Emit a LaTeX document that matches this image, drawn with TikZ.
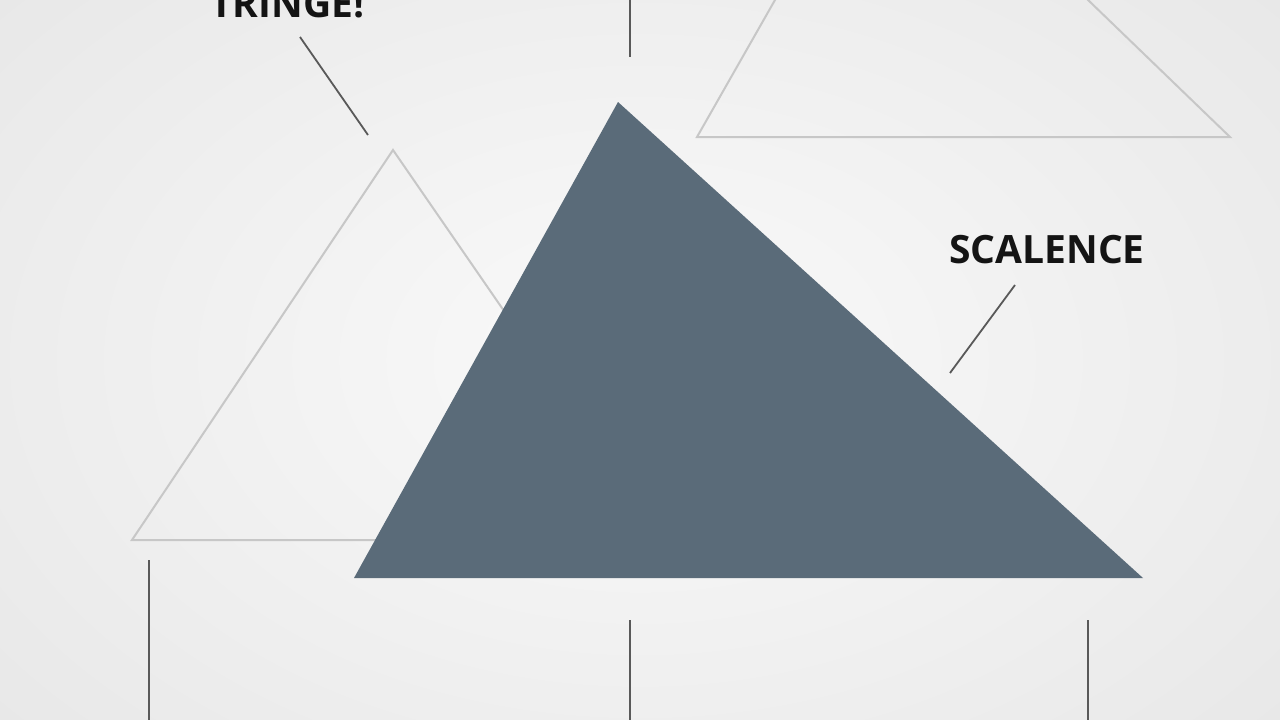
\documentclass[tikz,border=0pt]{standalone}
\usepackage{fontspec}
\setmainfont{Open Sans}
\begin{document}
\begin{tikzpicture}[x=1pt,y=-1pt,
  outlinetri/.style={draw=black!22, line width=2pt, line join=miter},
  darktri/.style={fill=slate, draw=none},
  leader/.style={draw=black!65, line width=1.8pt},
  lbl/.style={font=\fontsize{39}{47}\selectfont\bfseries, text=black!92, inner sep=0pt, anchor=base west}]
\definecolor{slate}{RGB}{90,107,121}
\useasboundingbox (0,0) rectangle (1280,720);
\clip (0,0) rectangle (1280,720);
\shade[inner color=black!2, outer color=black!9] (-200,-200) rectangle (1480,920);
% outline triangles
\draw[outlinetri] (886,-195) -- (697,137) -- (1230,137) -- cycle;
\draw[outlinetri] (393,150) -- (132,540) -- (662,540) -- cycle;
% main filled triangle
\fill[darktri] (618,102) -- (354,578) -- (1143,578) -- cycle;
% labels
\node[lbl] (tri) at (210,17) {TRINGE!};
\node[lbl] (sca) at (949,263) {SCALENCE};
% leader lines
\coordinate (t1) at (300,37); \coordinate (t2) at (368,135);
\coordinate (s1) at (1015,285); \coordinate (s2) at (950,373);
\coordinate (v1a) at (630,0); \coordinate (v1b) at (630,57);
\coordinate (v2a) at (149,560); \coordinate (v2b) at (149,720);
\coordinate (v3a) at (630,620); \coordinate (v3b) at (630,720);
\coordinate (v4a) at (1088,620); \coordinate (v4b) at (1088,720);
\draw[leader] (t1) -- (t2);
\draw[leader] (s1) -- (s2);
\draw[leader] (v1a) -- (v1b);
\draw[leader] (v2a) -- (v2b);
\draw[leader] (v3a) -- (v3b);
\draw[leader] (v4a) -- (v4b);
\end{tikzpicture}
\end{document}
